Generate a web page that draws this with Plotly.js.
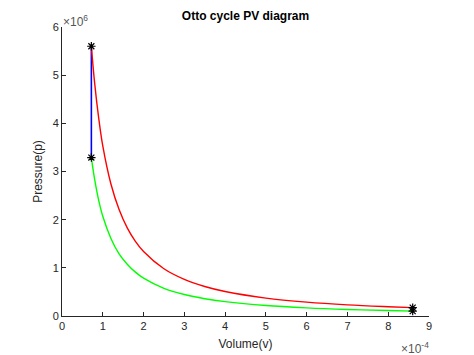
<!DOCTYPE html>
<html><head><meta charset="utf-8">
<script src="https://cdn.plot.ly/plotly-3.0.1.min.js"></script>
<style>html,body{margin:0;padding:0;background:#fff}</style>
</head><body><div id="chart" style="width:474px;height:355px"></div>
<script>
// Volumes (m^3) and pressures (Pa)
const volCurve = [0.72e-4,0.8e-4,0.9e-4,1.0e-4,1.2e-4,1.4e-4,1.6e-4,1.8e-4,2.0e-4,2.5e-4,3.0e-4,3.5e-4,4.0e-4,5.0e-4,6.0e-4,7.0e-4,8.0e-4,8.6e-4];
const pCompression = [3.29e6,2.84e6,2.40e6,2.07e6,1.61e6,1.29e6,1.075e6,0.911e6,0.786e6,0.575e6,0.446e6,0.359e6,0.298e6,0.218e6,0.169e6,0.136e6,0.113e6,0.102e6];
const pExpansion = [5.6e6,4.84e6,4.11e6,3.53e6,2.74e6,2.21e6,1.83e6,1.55e6,1.34e6,0.981e6,0.760e6,0.612e6,0.508e6,0.372e6,0.288e6,0.232e6,0.193e6,0.174e6];
const volHeat = [0.72e-4,0.72e-4];
const pHeat = [3.29e6,5.6e6];
const volStates = [8.6e-4,0.72e-4,0.72e-4,8.6e-4];
const pStates = [0.102e6,3.29e6,5.6e6,0.174e6];
const xTicks = [0,1,2,3,4,5,6,7,8,9];
const yTicks = [0,1,2,3,4,5,6];

const axColor = '#262626';
const traces = [
  {x: volCurve, y: pCompression, mode:'lines', line:{color:'#00ff00', width:1.4, shape:'spline'}, hoverinfo:'none'},
  {x: volHeat, y: pHeat, mode:'lines', line:{color:'#0000ff', width:1.6}, hoverinfo:'none'},
  {x: volCurve, y: pExpansion, mode:'lines', line:{color:'#ff0000', width:1.4, shape:'spline'}, hoverinfo:'none'},
  {x: [volStates[3], volStates[0]], y: [pStates[3], pStates[0]], mode:'lines', line:{color:'#000000', width:1.3}, hoverinfo:'none'},
  {x: volStates, y: pStates, mode:'markers', marker:{symbol:'asterisk-open', color:'#000000', size:7, line:{color:'#000000', width:1.2}}, hoverinfo:'none'}
];
const fnt = {family:'Liberation Sans, Arial, sans-serif', size:11, color:axColor};
const layout = {
  width:474, height:355,
  margin:{l:62, r:45, t:27, b:39},
  paper_bgcolor:'#ffffff', plot_bgcolor:'#ffffff',
  showlegend:false,
  font: fnt,
  title:{text:'<b>Otto cycle PV diagram</b>', font:{family:'Liberation Sans, Arial, sans-serif', size:12, color:'#000000'}, x:0.518, xanchor:'center', y:0.955, yanchor:'middle'},
  xaxis:{range:[0,9e-4], tickvals:xTicks.map(v=>v*1e-4), ticktext:xTicks.map(String), showgrid:false, zeroline:false,
    showline:true, linecolor:axColor, linewidth:1, ticks:'inside', ticklen:4, tickcolor:axColor, mirror:false,
    tickfont:{size:11, color:axColor}, title:{text:'Volume(v)', font:{size:12, color:axColor}, standoff:8}},
  yaxis:{range:[0,6e6], tickvals:yTicks.map(v=>v*1e6), ticktext:yTicks.map(String), showgrid:false, zeroline:false,
    showline:true, linecolor:axColor, linewidth:1, ticks:'inside', ticklen:4, tickcolor:axColor, mirror:false,
    tickfont:{size:11, color:axColor}, title:{text:'Pressure(p)', font:{size:12, color:axColor}, standoff:7}},
  annotations:[
    {xref:'paper', yref:'paper', x:0, y:1, xanchor:'left', yanchor:'bottom', showarrow:false,
     text:'\u00d710<sup>6</sup>', font:{size:12, color:'#555555'}, xshift:-1, yshift:-4},
    {xref:'paper', yref:'paper', x:1, y:0, xanchor:'right', yanchor:'top', showarrow:false,
     text:'\u00d710<sup>-4</sup>', font:{size:12, color:'#555555'}, xshift:2, yshift:-22}
  ]
};
Plotly.newPlot('chart', traces, layout, {displayModeBar:false, staticPlot:true});
</script></body></html>
